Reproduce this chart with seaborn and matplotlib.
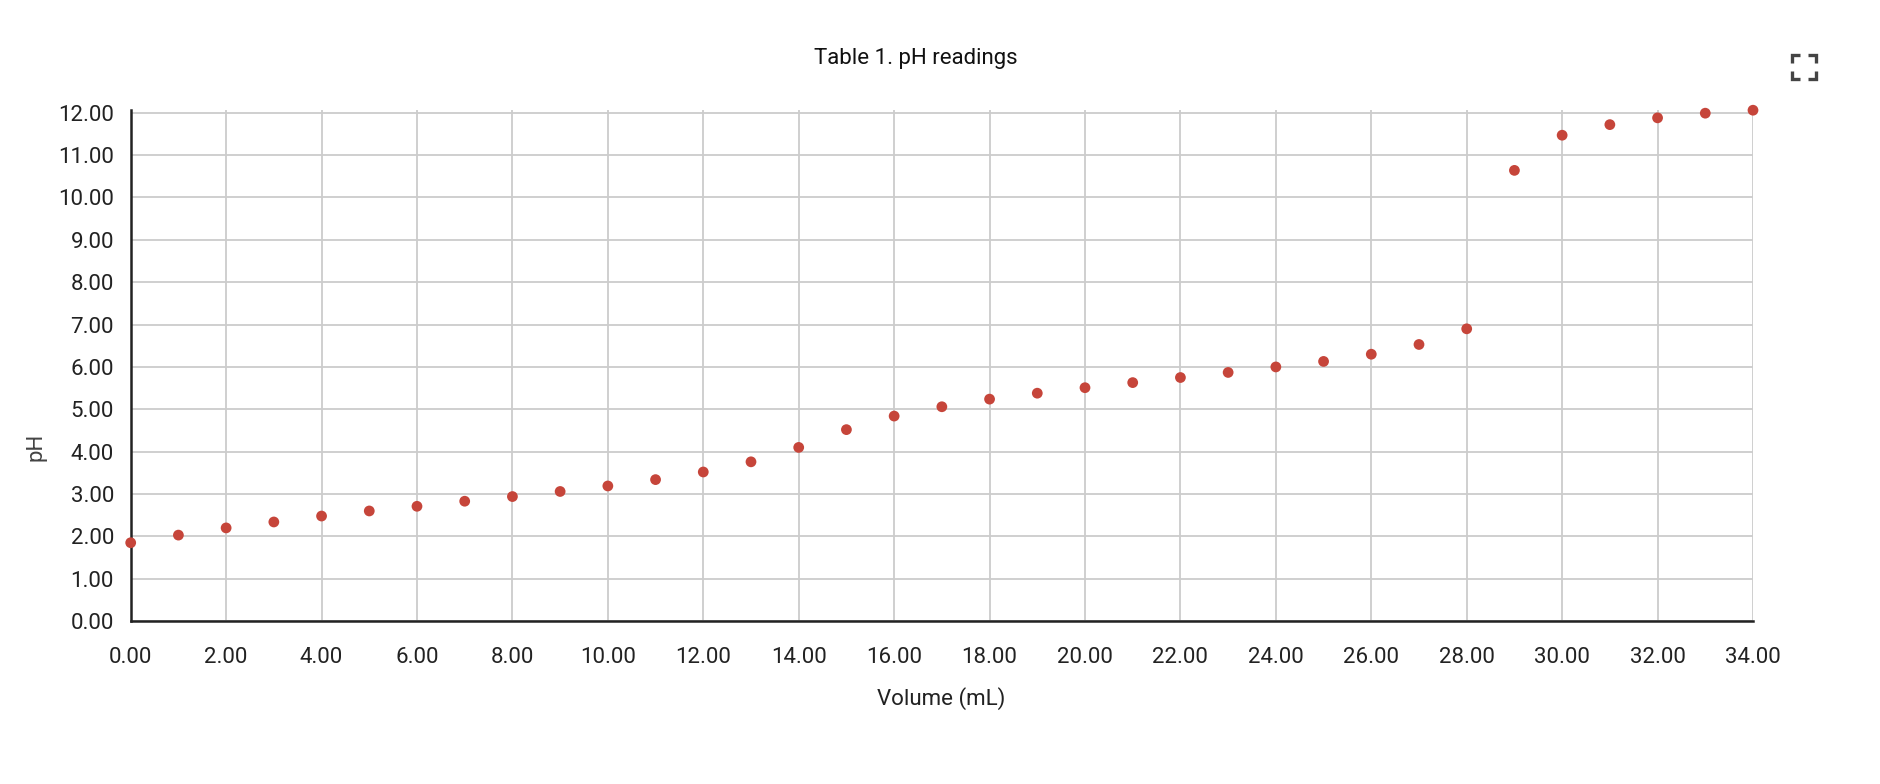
import matplotlib
matplotlib.use("Agg")
import matplotlib.pyplot as plt
from matplotlib.lines import Line2D
import seaborn as sns
import pandas as pd
import numpy as np

# ---- data ----
volume_ml = [0, 1, 2, 3, 4, 5, 6, 7, 8, 9, 10, 11, 12, 13, 14, 15, 16, 17,
             18, 19, 20, 21, 22, 23, 24, 25, 26, 27, 28, 29, 30, 31, 32, 33, 34]
ph_values = [1.85, 2.03, 2.20, 2.34, 2.48, 2.60, 2.71, 2.83, 2.94, 3.06, 3.19,
             3.34, 3.52, 3.76, 4.10, 4.52, 4.84, 5.06, 5.24, 5.38, 5.51, 5.63,
             5.75, 5.87, 6.00, 6.13, 6.30, 6.53, 6.90, 10.64, 11.47, 11.72,
             11.88, 11.99, 12.06]
x_ticks = [0, 2, 4, 6, 8, 10, 12, 14, 16, 18, 20, 22, 24, 26, 28, 30, 32, 34]
y_ticks = [0, 1, 2, 3, 4, 5, 6, 7, 8, 9, 10, 11, 12]
title = "Table 1. pH readings"
x_label = "Volume (mL)"
y_label = "pH"

df = pd.DataFrame({"Volume (mL)": volume_ml, "pH": ph_values})

sns.set_theme(style="whitegrid")
plt.rcParams["font.family"] = ["Roboto", "DejaVu Sans"]

W, H = 1880, 784
fig = plt.figure(figsize=(W / 100, H / 100), dpi=100)
ax = fig.add_axes([130.7 / W, 1 - 621.1 / H, (1753 - 130.7) / W, (621.1 - 109.8) / H])
ax.set_facecolor("white")

sns.scatterplot(data=df, x="Volume (mL)", y="pH", ax=ax, color="#c6453a",
                s=60, edgecolor="none", linewidth=0, clip_on=False, zorder=5)

ax.set_xlim(0, 34)
ax.set_ylim(0, 12.07)
ax.set_xticks(x_ticks)
ax.set_yticks(y_ticks)
ax.set_xticklabels([f"{v:.2f}" for v in x_ticks])
ax.set_yticklabels([f"{v:.2f}" for v in y_ticks])
ax.tick_params(axis="both", length=0, labelsize=16, colors="#222222")
ax.tick_params(axis="x", pad=19)
ax.tick_params(axis="y", pad=12)
ax.grid(True, color="#cccccc", linewidth=1.3)
ax.set_axisbelow(True)

for side in ["top", "right"]:
    ax.spines[side].set_visible(False)
for side in ["left", "bottom"]:
    ax.spines[side].set_color("#222222")
    ax.spines[side].set_linewidth(1.8)
    ax.spines[side].set_zorder(4)

ax.set_xlabel("")
ax.set_ylabel("")

fig.text(915.5 / W, 1 - 58.7 / H, title, ha="center", va="center",
         fontsize=16, color="#111111")
fig.text(941 / W, 1 - 699 / H, x_label, ha="center", va="center",
         fontsize=16, color="#222222")
fig.text(36 / W, 1 - 447 / H, y_label, ha="center", va="center",
         fontsize=16, color="#444444", rotation=90)

# fullscreen icon (top right)
x0, x1, y0, y1 = 1792, 1816, 55, 79
arm = 8
lw = 2.4
col = "#444444"
corners = [
    ([x0, x0, x0 + arm], [y0 + arm, y0, y0]),
    ([x1 - arm, x1, x1], [y0, y0, y0 + arm]),
    ([x0, x0, x0 + arm], [y1 - arm, y1, y1]),
    ([x1 - arm, x1, x1], [y1, y1, y1 - arm]),
]
for xs, ys in corners:
    fig.add_artist(Line2D([v / W for v in xs], [1 - v / H for v in ys],
                          color=col, linewidth=lw, solid_capstyle="butt",
                          solid_joinstyle="miter"))

fig.savefig("out.png", dpi=100, facecolor="white")
